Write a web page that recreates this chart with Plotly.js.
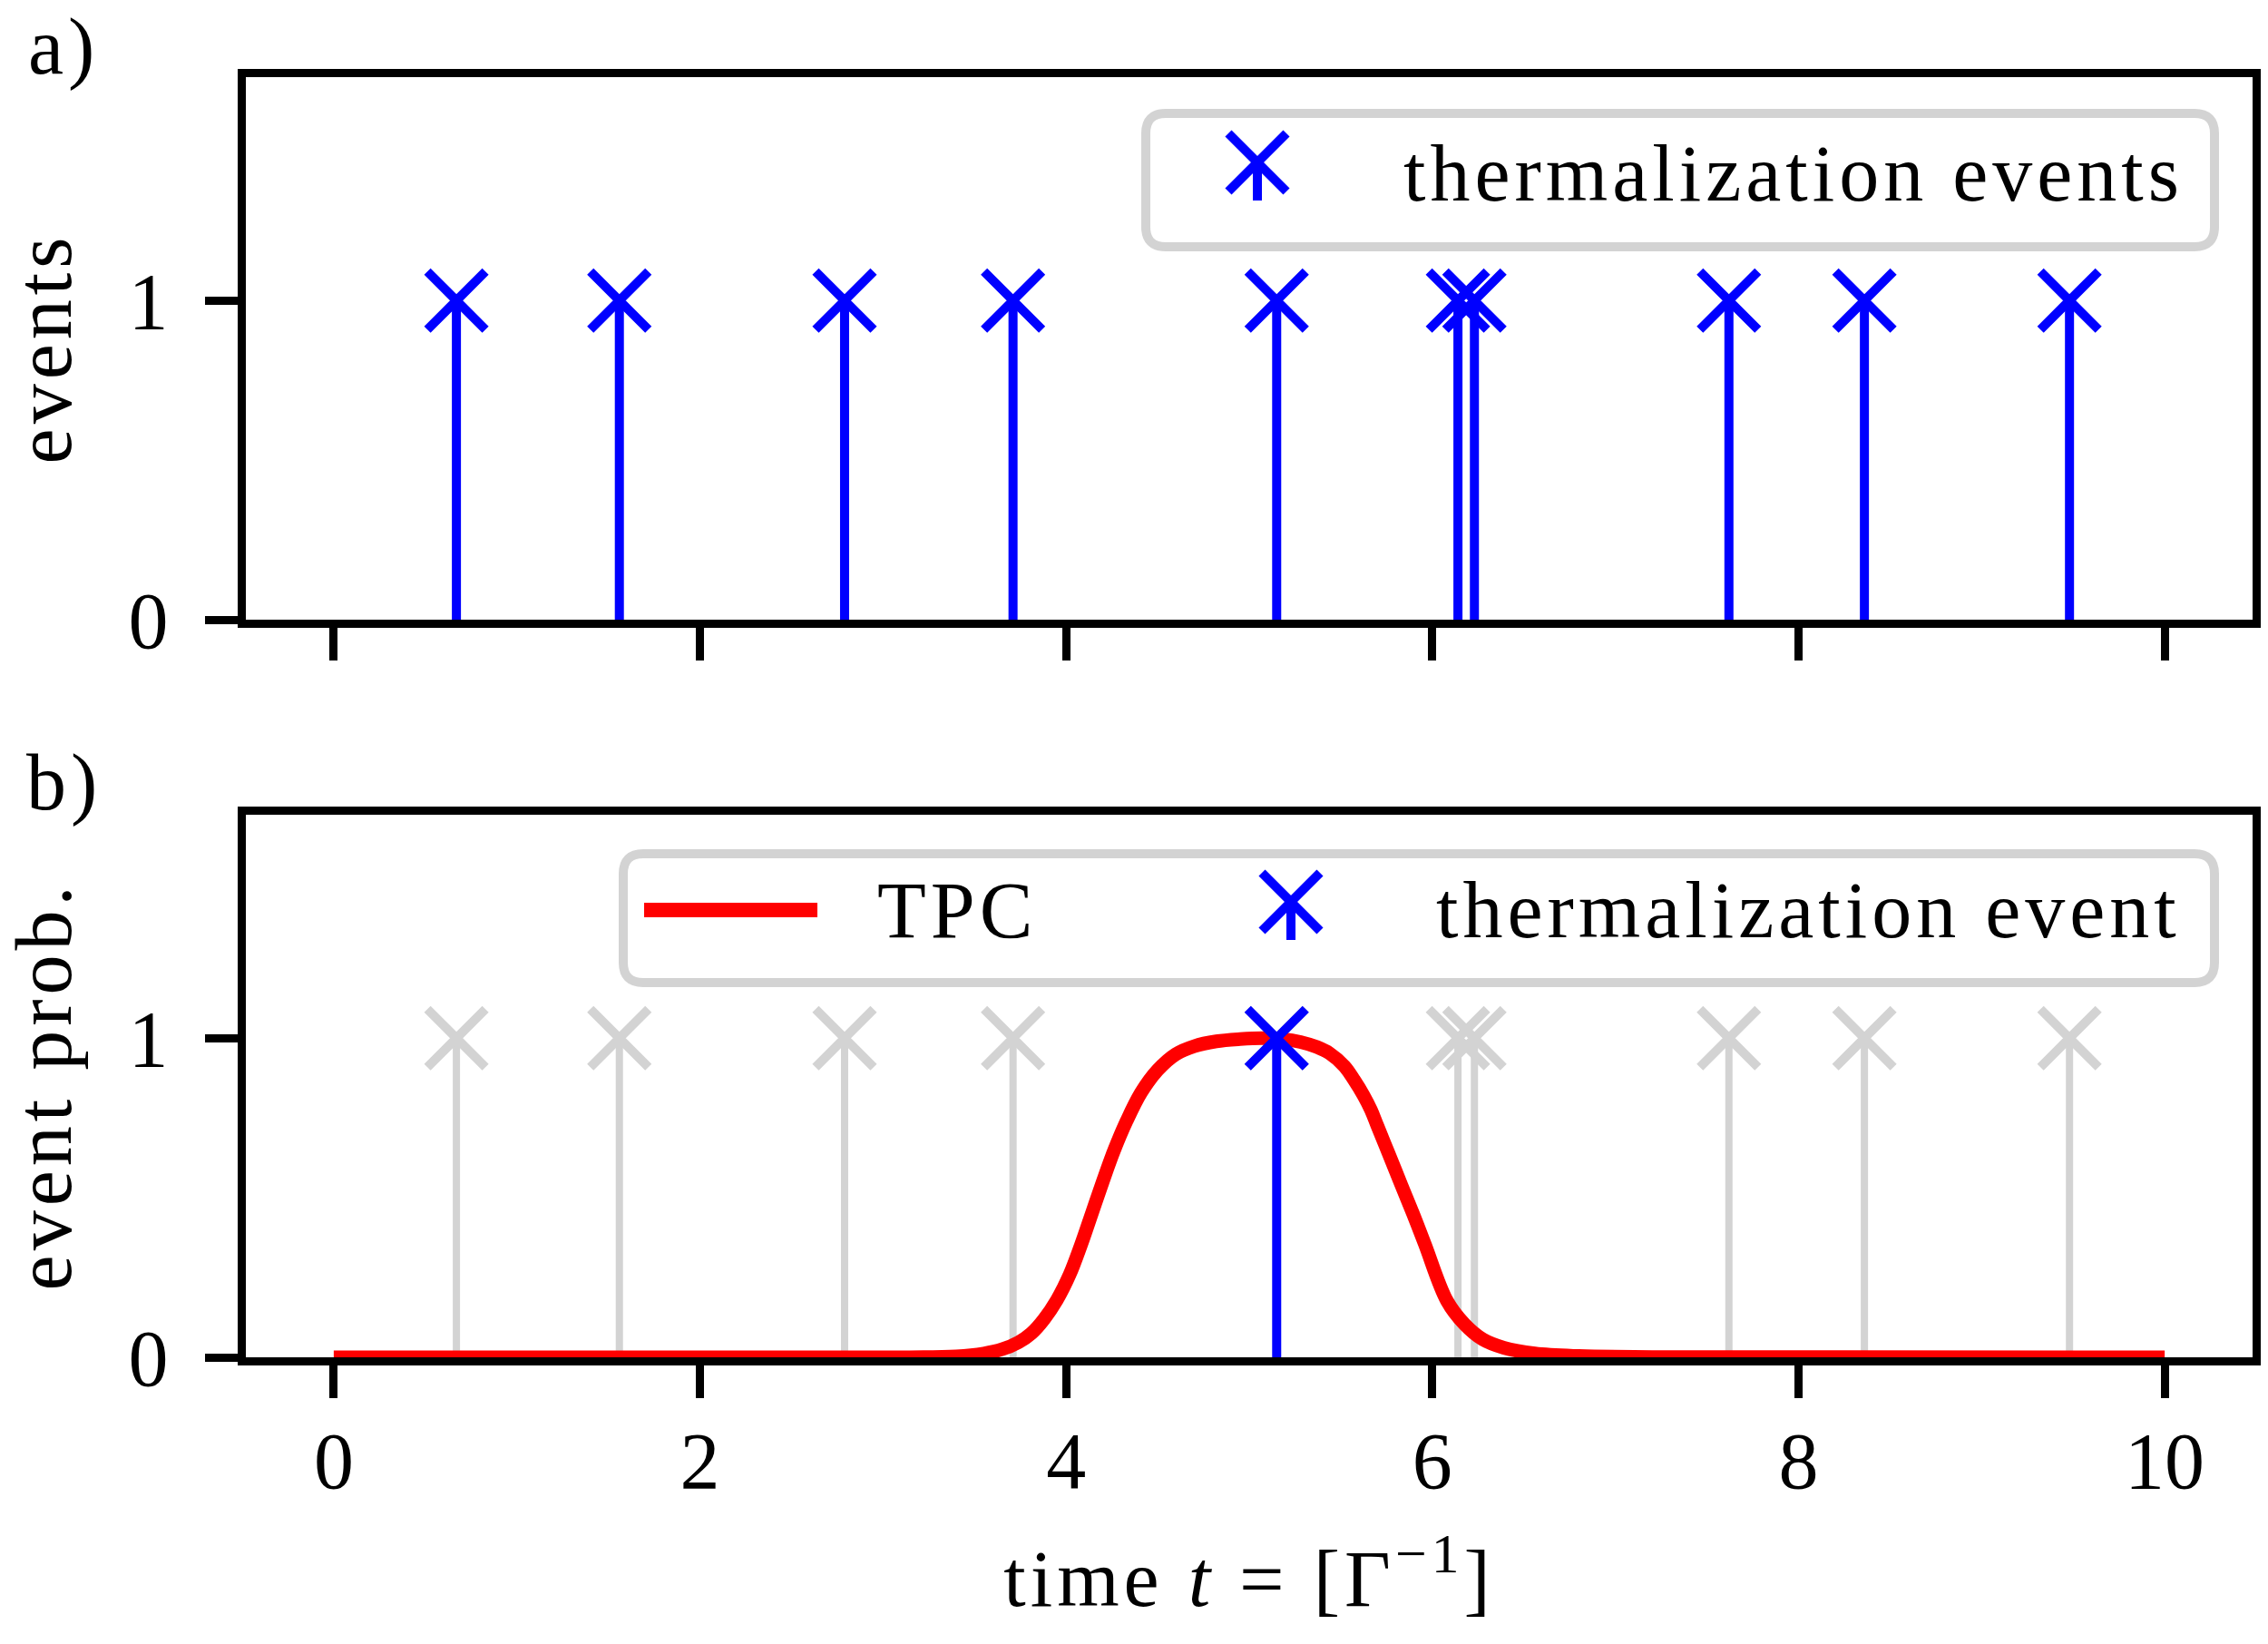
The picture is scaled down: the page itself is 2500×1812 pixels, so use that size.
<!DOCTYPE html>
<html>
<head>
<meta charset="utf-8">
<script src="https://cdn.plot.ly/plotly-3.0.1.min.js"></script>
<style>
  html, body { margin: 0; padding: 0; background: white; }
  #chart { width: 2500px; height: 1812px; }
  /* Computer Modern is wider than the serif we have, open the text up a little */
  #chart .annotation-text,
  #chart .ytitle,
  #chart .y2title,
  #chart .x2title { letter-spacing: 5px; }
</style>
</head>
<body>
<div id="chart"></div>
<script>
/* global Plotly */
// event times (panel a and grey stems of panel b)
const eventTimes = [0.67, 1.56, 2.79, 3.71, 5.15, 6.14, 6.23, 7.62, 8.36, 9.48];
const eventCounts = [1, 1, 1, 1, 1, 1, 1, 1, 1, 1];
// the highlighted event in panel b
const selectedTimes = [5.15];
const selectedProbs = [1];
// TPC curve, read point by point
const tpcTime = [0, 3.0, 3.4, 3.55, 3.65, 3.74, 3.81, 3.88, 3.95, 4.02, 4.08, 4.14,
  4.20, 4.26, 4.33, 4.41, 4.50, 4.60, 4.70, 4.82, 4.95, 5.07, 5.18, 5.28, 5.37,
  5.44, 5.52, 5.574, 5.623, 5.665, 5.698, 5.764, 5.83, 5.896, 5.959, 6.08, 6.177,
  6.276, 6.39, 6.56, 6.8, 7.2, 10];
const tpcProb = [0, 0, 0.003, 0.012, 0.025, 0.047, 0.075, 0.12, 0.18, 0.26, 0.35,
  0.45, 0.55, 0.645, 0.74, 0.83, 0.9, 0.95, 0.975, 0.99, 0.997, 1.0, 0.997, 0.988,
  0.972, 0.952, 0.912, 0.868, 0.822, 0.775, 0.728, 0.635, 0.541, 0.448, 0.355, 0.177,
  0.103, 0.056, 0.03, 0.012, 0.004, 0.001, 0];
const xTicks = [0, 2, 4, 6, 8, 10];
const yTicks = [0, 1];

const W = 2500;
const H = 1812;
const M = { l: 271, r: 17, t: 85, b: 316 };
const plotW = W - M.l - M.r;
const plotH = H - M.t - M.b;
const FONT = "Liberation Serif, DejaVu Serif, serif";
const FS = 88;
const BLUE = "#0000ff";
const GREY = "#d3d3d3";
const RED = "#ff0000";

// pixel -> paper helpers, used only for layout decorations
const px = (x) => (x - M.l) / plotW;
const py = (y) => (H - M.b - y) / plotH;

function stemTrace(xs, ys, color, stemWidth, xaxis, yaxis) {
  return {
    type: "scatter",
    mode: "markers",
    x: xs,
    y: ys,
    xaxis,
    yaxis,
    marker: {
      symbol: "x-thin-open",
      size: 64,
      color,
      line: { color, width: 10 },
    },
    error_y: {
      type: "data",
      symmetric: false,
      array: ys.map(() => 0),
      arrayminus: ys,
      width: 0,
      thickness: stemWidth,
      color,
    },
    cliponaxis: false,
    showlegend: false,
    hoverinfo: "x",
  };
}

const tpcTrace = {
  type: "scatter",
  mode: "lines",
  x: tpcTime,
  y: tpcProb,
  xaxis: "x2",
  yaxis: "y2",
  line: { color: RED, width: 15, shape: "spline", smoothing: 1 },
  showlegend: false,
  hoverinfo: "x+y",
};

const axisBase = {
  showline: true,
  mirror: true,
  linecolor: "black",
  linewidth: 9,
  ticks: "outside",
  ticklen: 36,
  tickwidth: 9,
  tickcolor: "black",
  showgrid: false,
  zeroline: false,
  fixedrange: true,
  tickfont: { family: FONT, size: FS, color: "black" },
};

const xBase = {
  ...axisBase,
  range: [-0.48, 10.48],
  tickmode: "array",
  tickvals: xTicks,
};

const yBase = {
  ...axisBase,
  range: [0, 1.7],
  tickmode: "array",
  tickvals: yTicks,
  ticklabelstandoff: 23,
};

function roundedRect(x0, y0, x1, y1, r) {
  const X = (v) => px(v).toFixed(5);
  const Y = (v) => py(v).toFixed(5);
  return (
    `M${X(x0 + r)},${Y(y0)} L${X(x1 - r)},${Y(y0)} Q${X(x1)},${Y(y0)} ${X(x1)},${Y(y0 + r)} ` +
    `L${X(x1)},${Y(y1 - r)} Q${X(x1)},${Y(y1)} ${X(x1 - r)},${Y(y1)} ` +
    `L${X(x0 + r)},${Y(y1)} Q${X(x0)},${Y(y1)} ${X(x0)},${Y(y1 - r)} ` +
    `L${X(x0)},${Y(y0 + r)} Q${X(x0)},${Y(y0)} ${X(x0 + r)},${Y(y0)} Z`
  );
}

function frame(x0, y0, x1, y1) {
  return {
    type: "path",
    xref: "paper",
    yref: "paper",
    path: roundedRect(x0, y0, x1, y1, 22),
    fillcolor: "white",
    line: { color: GREY, width: 10 },
    layer: "above",
  };
}

function seg(x0, y0, x1, y1, color, width) {
  return {
    type: "line",
    xref: "paper",
    yref: "paper",
    x0: px(x0),
    y0: py(y0),
    x1: px(x1),
    y1: py(y1),
    line: { color, width },
    layer: "above",
  };
}

// legend handle for a stem: an x with a short stem below it
function stemHandle(cx, cy) {
  const h = 32;
  return [
    seg(cx, cy, cx, cy + 42, BLUE, 10),
    seg(cx - h, cy - h, cx + h, cy + h, BLUE, 10),
    seg(cx - h, cy + h, cx + h, cy - h, BLUE, 10),
  ];
}

function label(text, x, y, anchor) {
  return {
    text,
    xref: "paper",
    yref: "paper",
    x: px(x),
    y: py(y),
    xanchor: anchor || "left",
    align: anchor || "left",
    yanchor: "middle",
    showarrow: false,
    font: { family: FONT, size: FS, color: "black" },
  };
}

const layout = {
  width: W,
  height: H,
  margin: { ...M, pad: 0 },
  paper_bgcolor: "white",
  plot_bgcolor: "white",
  showlegend: false,
  font: { family: FONT, size: FS, color: "black" },
  xaxis: { ...xBase, anchor: "y", showticklabels: false },
  yaxis: {
    ...yBase,
    anchor: "x",
    domain: [py(683), 1],
    title: { text: "events", font: { family: FONT, size: FS }, standoff: 75 },
  },
  xaxis2: {
    ...xBase,
    anchor: "y2",
    ticklabelstandoff: -7,
    title: {
      text: "time <i>t</i> = [Γ<sup>−1</sup>]",
      font: { family: FONT, size: FS },
      standoff: 54,
    },
  },
  yaxis2: {
    ...yBase,
    anchor: "x2",
    domain: [0, py(898)],
    title: { text: "event prob.", font: { family: FONT, size: FS }, standoff: 75 },
  },
  shapes: [
    frame(1263, 125, 2441, 272),
    ...stemHandle(1386, 179),
    frame(687, 941, 2441, 1083),
    seg(710, 1003, 901, 1003, RED, 16),
    ...stemHandle(1423, 994),
  ],
  annotations: [
    label("a)", 70, 52, "center"),
    label("b)", 70, 862, "center"),
    label("thermalization events", 1545, 191),
    label("TPC", 965, 1003),
    label("thermalization event", 1581, 1003),
  ],
};

const data = [
  stemTrace(eventTimes, eventCounts, BLUE, 10, "x", "y"),
  stemTrace(eventTimes, eventCounts, GREY, 8, "x2", "y2"),
  tpcTrace,
  stemTrace(selectedTimes, selectedProbs, BLUE, 10, "x2", "y2"),
];

Plotly.newPlot(document.getElementById("chart"), data, layout, {
  displayModeBar: false,
  staticPlot: true,
});
</script>
</body>
</html>
